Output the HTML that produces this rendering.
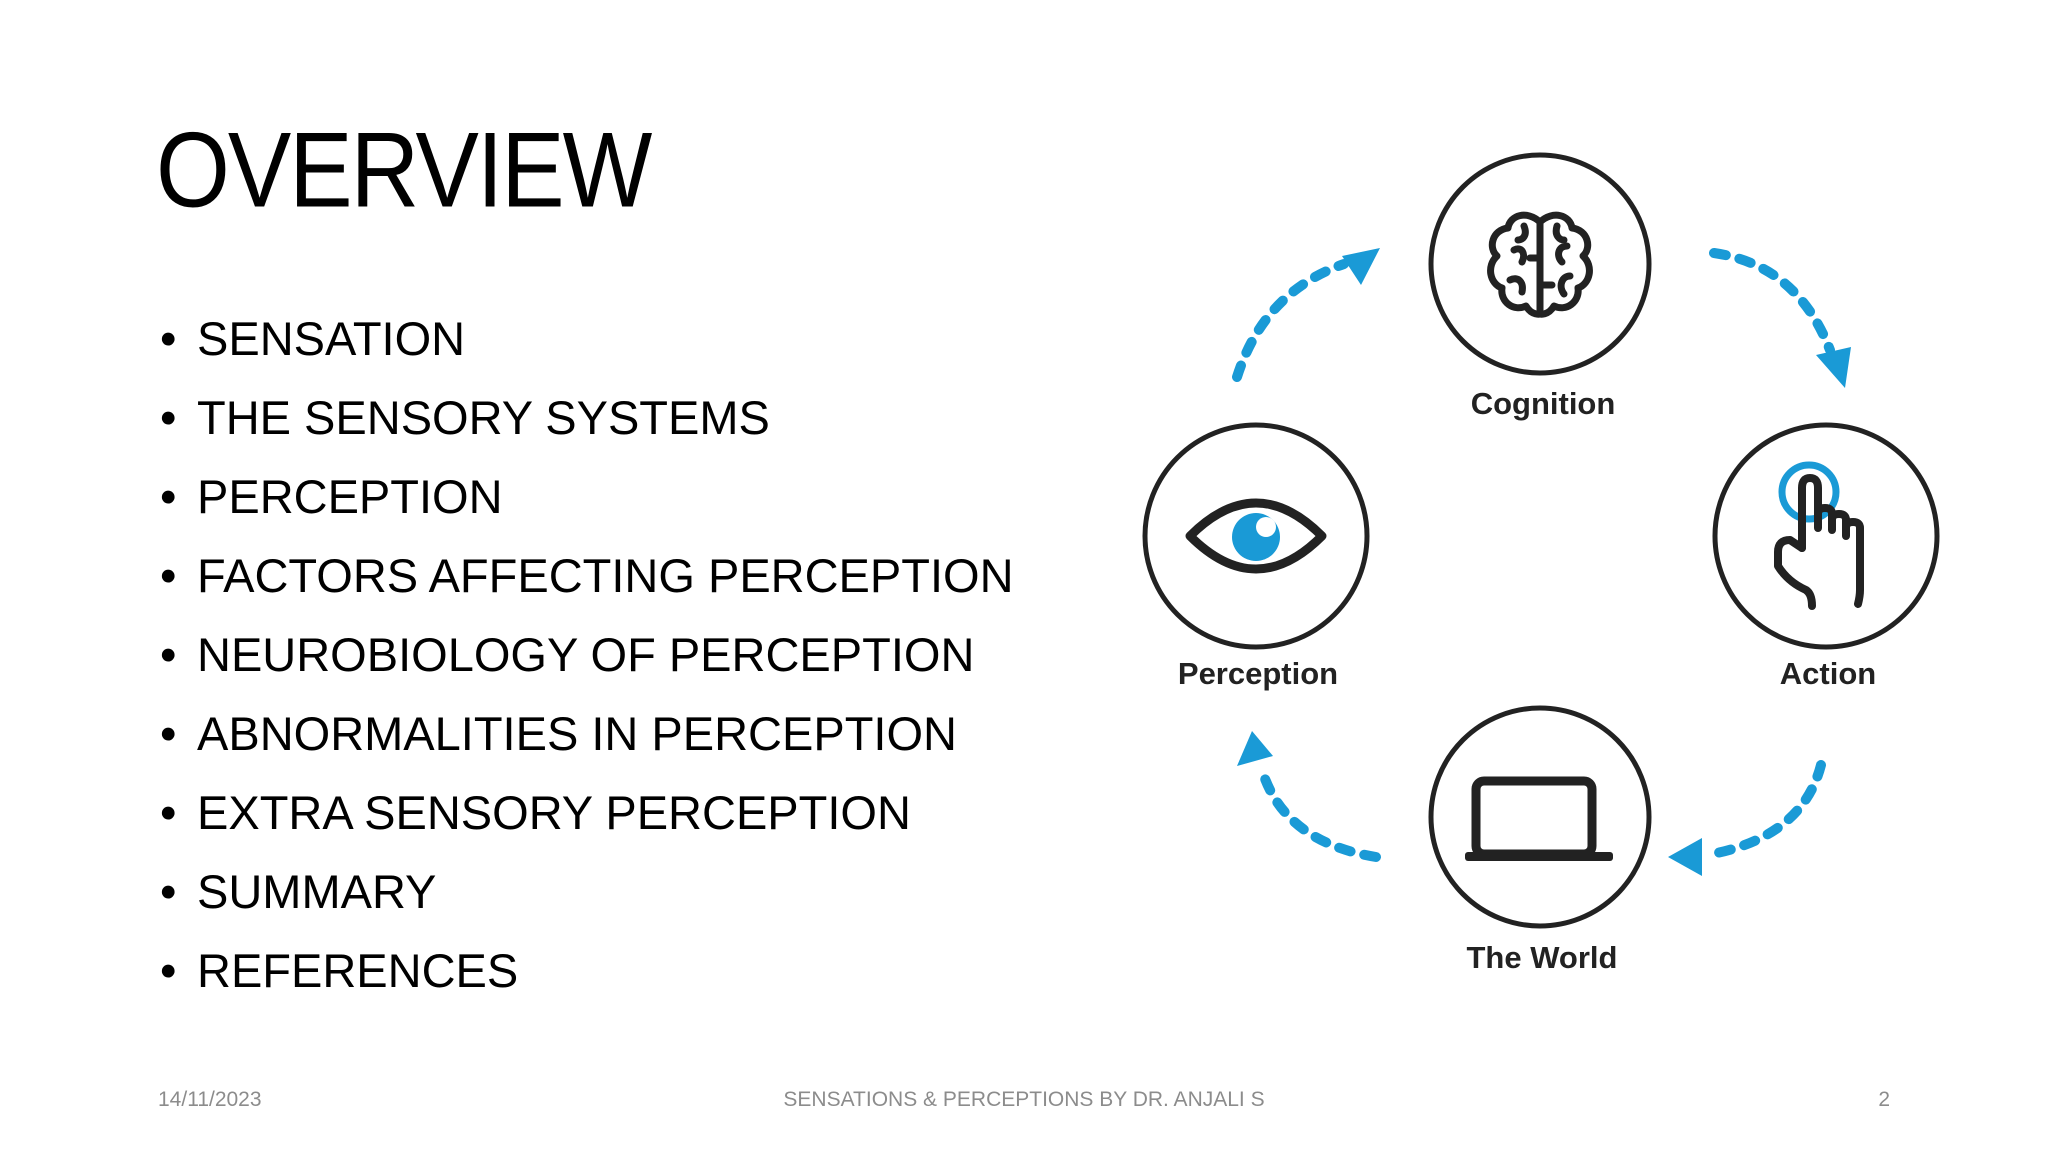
<!DOCTYPE html>
<html><head><meta charset="utf-8"><style>
html,body{margin:0;padding:0;background:#fff}
body{width:2048px;height:1152px;position:relative;overflow:hidden;font-family:"Liberation Sans",sans-serif;color:#000}
.t{position:absolute;left:156px;top:118px;font-size:95px;line-height:1;letter-spacing:-2px;transform:scaleY(1.12);transform-origin:left top}
ul{position:absolute;left:160px;top:299px;margin:0;padding:0;list-style:none;font-size:47px;line-height:79px}
li{position:relative;padding-left:37px}
li:before{content:"•";position:absolute;left:0}
.f{position:absolute;top:1088px;font-size:21px;color:#8c8c8c}
</style></head><body>
<div class="t">OVERVIEW</div>
<ul>
<li>SENSATION</li><li>THE SENSORY SYSTEMS</li><li>PERCEPTION</li><li>FACTORS AFFECTING PERCEPTION</li><li>NEUROBIOLOGY OF PERCEPTION</li><li>ABNORMALITIES IN PERCEPTION</li><li>EXTRA SENSORY PERCEPTION</li><li>SUMMARY</li><li>REFERENCES</li>
</ul>
<div class="f" style="left:158px">14/11/2023</div>
<div class="f" style="left:0;width:2048px;text-align:center">SENSATIONS &amp; PERCEPTIONS BY DR. ANJALI S</div>
<div class="f" style="right:158px">2</div>
<svg width="2048" height="1152" style="position:absolute;left:0;top:0" font-family="Liberation Sans, sans-serif" font-weight="bold" font-size="31" fill="#222" text-anchor="middle">
<g transform="translate(-8,0)">
<g fill="none" stroke="#222" stroke-width="5">
<circle cx="1548" cy="264" r="109"/>
<circle cx="1264" cy="536" r="111"/>
<circle cx="1834" cy="536" r="111"/>
<circle cx="1548" cy="817" r="109"/>
</g>
<text x="1551" y="414">Cognition</text>
<text x="1266" y="684">Perception</text>
<text x="1836" y="684">Action</text>
<text x="1550" y="968">The World</text>
<g fill="none" stroke="#1a9ad6" stroke-width="10" stroke-linecap="round" stroke-dasharray="12 14">
<path d="M1245 377 Q1272 292 1352 264"/>
<path d="M1722 253 Q1805 265 1838 350"/>
<path d="M1829 765 Q1810 838 1715 855"/>
<path d="M1384 857 Q1292 842 1270 770"/>
</g>
<g fill="#1a9ad6">
<polygon points="1388,248 1350,256 1369,285"/>
<polygon points="1853,388 1824,355 1859,347"/>
<polygon points="1676,857 1710,838 1710,876"/>
<polygon points="1260,731 1245,766 1281,756"/>
</g>
<g fill="none" stroke="#222" stroke-width="7" stroke-linecap="round" stroke-linejoin="round">
<path d="M1548 222 C1535 210 1518 215 1516 228 C1500 230 1496 248 1505 256 C1494 266 1498 284 1510 288 C1508 302 1522 312 1534 306 C1540 316 1548 314 1548 314 C1548 314 1556 316 1562 306 C1574 312 1588 302 1586 288 C1598 284 1602 266 1591 256 C1600 248 1596 230 1580 228 C1578 215 1561 210 1548 222 Z"/>
<path d="M1548 224 V312 M1548 258 H1538 M1548 285 H1560 M1522 250 C1530 246 1534 254 1530 262 M1575 246 C1566 246 1564 256 1570 262 M1518 280 C1526 276 1532 282 1530 292 M1578 276 C1570 276 1566 286 1572 294 M1532 226 C1536 236 1530 240 1526 240 M1565 226 C1562 236 1568 240 1572 240"/>
</g>
<path d="M1198 536 Q1264 470 1330 536 Q1264 602 1198 536 Z" fill="none" stroke="#222" stroke-width="9" stroke-linejoin="round"/>
<circle cx="1264" cy="537" r="24" fill="#1a9ad6"/>
<circle cx="1274" cy="527" r="10" fill="#fff"/>
<circle cx="1817" cy="492" r="27" fill="none" stroke="#1a9ad6" stroke-width="7"/>
<g fill="none" stroke="#222" stroke-width="8" stroke-linecap="round" stroke-linejoin="round">
<path d="M1810 548 V488 Q1810 478 1818 478 Q1826 478 1826 488 V528 V514 Q1826 508 1833 508 Q1840 508 1840 514 V530 V520 Q1840 514 1847 514 Q1854 514 1854 520 V536 V528 Q1854 522 1861 522 Q1868 522 1868 528 V590 Q1868 596 1866 604"/>
<path d="M1810 548 L1798 540 Q1786 540 1786 552 L1786 566 Q1796 582 1814 590 Q1820 594 1820 606"/>
</g>
<rect x="1484" y="781" width="116" height="73" rx="8" fill="none" stroke="#222" stroke-width="9"/>
<rect x="1473" y="852" width="148" height="9" rx="3" fill="#222"/>
</g>
</svg>
</body></html>
